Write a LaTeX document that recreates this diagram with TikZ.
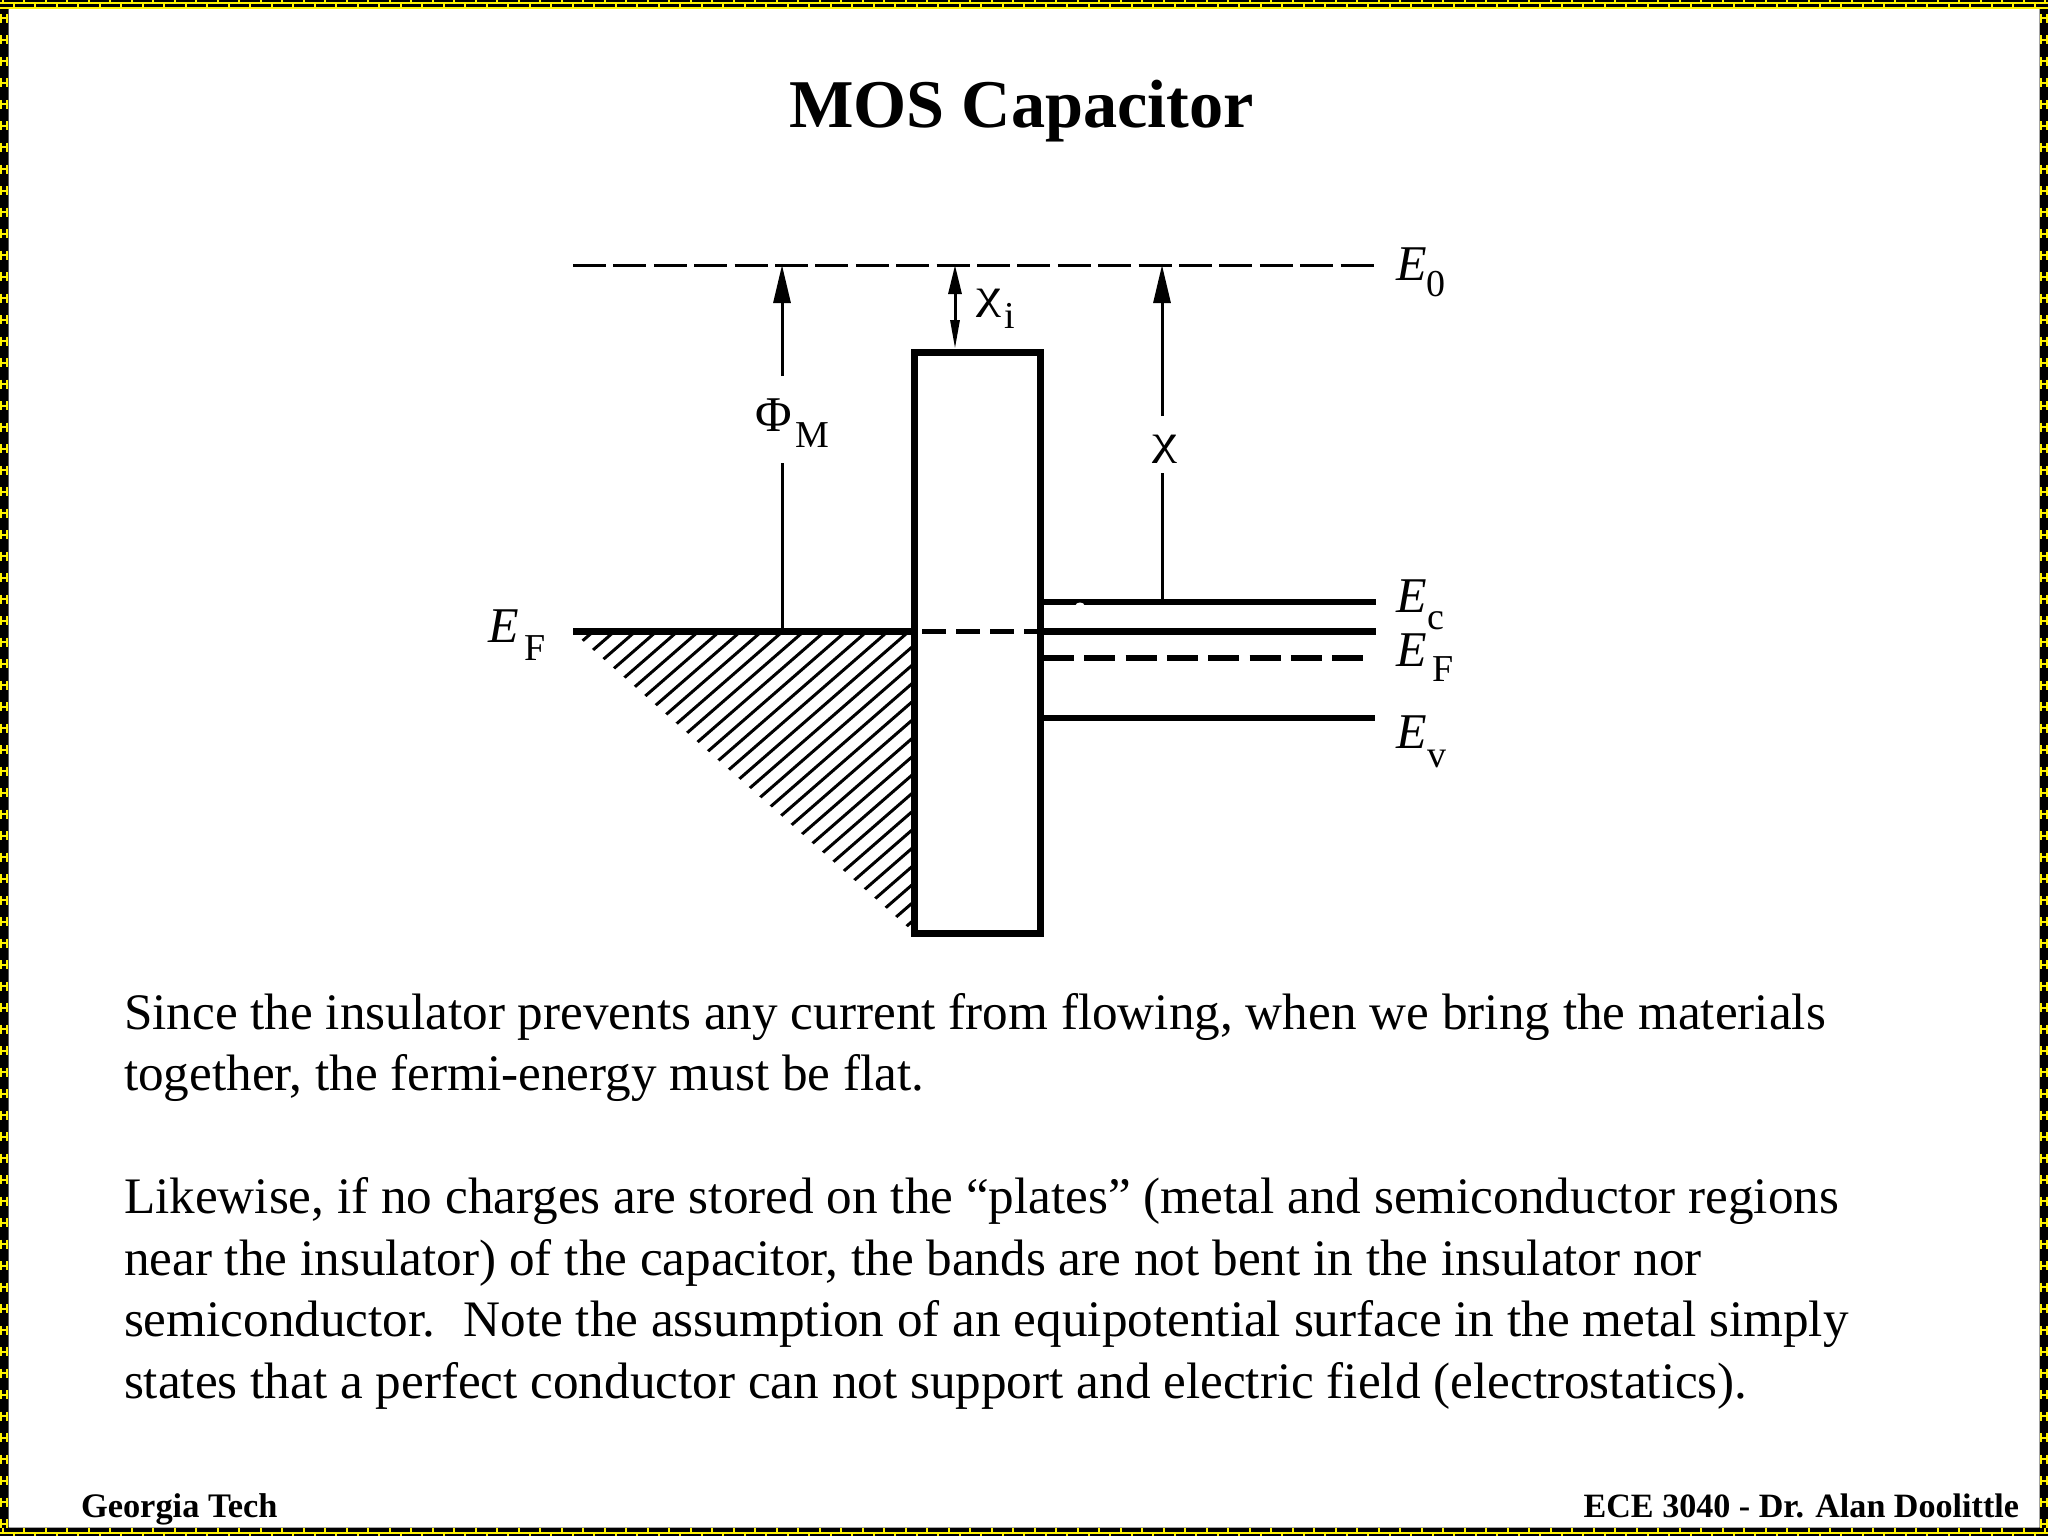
\documentclass[tikz,border=0pt]{standalone}
\usepackage{fontspec}
\usepackage{graphicx}
\setmainfont{Liberation Serif}
\usetikzlibrary{arrows.meta}
\newcommand{\fsz}[1]{\fontsize{#1}{#1}\selectfont}
\newcommand{\widechi}{\scalebox{1.2}[0.9]{χ}}
\tikzset{
  every node/.style={inner sep=0pt,outer sep=0pt,anchor=base west,text=black},
  title/.style={anchor=base,font=\fsz{68.3}\bfseries},
  body/.style={font=\fsz{51.2}},
  foot/.style={font=\fsz{34.1}\bfseries},
  footl/.style={font=\fsz{34.4}\bfseries},
  sym/.style={font=\fsz{50}},
  chisym/.style={font=\fsz{47}},
  symi/.style={font=\fsz{50}\itshape},
  subs/.style={font=\fsz{38}},
  band/.style={line width=6.5pt,line cap=butt},
  wall/.style={line width=7pt,line join=miter},
  dim/.style={line width=3pt},
  tipbig/.style={-{Triangle[length=38pt,width=17pt]}},
  hatchline/.style={line width=3pt},
  mortar/.style={yellow,line width=2pt},
}
\begin{document}
\begin{tikzpicture}[x=1pt,y=-1pt]
\useasboundingbox (0,0) rectangle (2048,1536);
\fill[white] (0,0) rectangle (2048,1536);
% ---- brick frame
\fill[black,even odd rule] (0,0) rectangle (2048,1536) (8.5,9) rectangle (2039.5,1527.5);
\draw[mortar] (0,3.4) -- (2048,3.4);
\draw[mortar] (0,8.4) -- (2048,8.4);
\draw[mortar] (0,1533) -- (2048,1533);
\foreach \k in {0,...,95}{
  \pgfmathsetmacro{\xa}{2.5+21.5*\k}
  \pgfmathsetmacro{\xb}{13.5+21.5*\k}
  \draw[mortar] (\xa,0) -- (\xa,3.4);
  \draw[mortar] (\xb,3.4) -- (\xb,8.4);
  \draw[mortar] (\xa,1527.5) -- (\xa,1533);
  \draw[mortar] (\xb,1533) -- (\xb,1536);
}
\foreach \k in {0,...,70}{
  \pgfmathsetmacro{\ya}{14+21.5*\k}
  \pgfmathsetmacro{\yb}{\ya+9}
  \pgfmathsetmacro{\ym}{\ya+4.5}
  \draw[mortar] (1,\ya) -- (1,\yb) (7.4,\ya) -- (7.4,\yb) (1,\ym) -- (7.4,\ym);
  \draw[mortar] (2040.6,\ya) -- (2040.6,\yb) (2047,\ya) -- (2047,\yb) (2040.6,\ym) -- (2047,\ym);
}
% ---- title
\node[title] (ttl) at (1021.5,128) {MOS Capacitor};
% ---- coordinates
\coordinate (e0l) at (573,265.5);
\coordinate (e0r) at (1376,265.5);
\coordinate (efl) at (573,631);
\coordinate (bl) at (914,631);
\coordinate (br) at (1040,631);
\coordinate (efr) at (1376,631);
\coordinate (ecl) at (1040,602);
\coordinate (ecr) at (1376,602);
\coordinate (fdl) at (1043,658);
\coordinate (fdr) at (1366,658);
\coordinate (evl) at (1040,718);
\coordinate (evr) at (1375,718);
% ---- hatch
\begin{scope}
\clip (575,634) -- (911,634) -- (911,930) -- cycle;
\foreach \k in {-17,...,16}{
  \pgfmathsetmacro{\cy}{647+18.3*\k}
  \pgfmathsetmacro{\dy}{\cy+0.87*360}
  \draw[hatchline] (912,\cy) -- (552,\dy);
}
\end{scope}
% ---- E0
\draw[line width=3pt,dash pattern=on 33pt off 7.4pt] (e0l) -- (e0r);
% ---- barrier
\node[draw,wall,fill=none,minimum width=126pt,minimum height=581pt,anchor=north west] (box) at (914,352) {};
% ---- levels
\draw[line width=7pt] (efl) -- (bl);
\draw[line width=5pt,dash pattern=on 24pt off 10pt] (922,631) -- (br);
\draw[line width=7pt] (br) -- (efr);
\draw[band] (ecl) -- (ecr);
\fill[white] (1080,605.5) ellipse (4.5pt and 3pt);
\draw[line width=5.5pt,dash pattern=on 31pt off 10.3pt] (fdl) -- (fdr);
\draw[band] (evl) -- (evr);
% ---- Phi_M
\coordinate (pa) at (782,631);
\coordinate (pb) at (782,463);
\coordinate (pc) at (782,376);
\coordinate (pd) at (782,265);
\draw[dim] (pa) -- (pb);
\draw[dim,tipbig] (pc) -- (pd);
\node[sym] (phi) at (755,431) {Φ};
\node[subs] (phim) at (795,447) {M};
% ---- chi_i
\coordinate (ci1) at (955,265);
\coordinate (ci2) at (955,349);
\draw[dim,{Triangle[length=29pt,width=13pt]}-{Triangle[length=29pt,width=9pt]}] (ci1) -- (ci2);
\node[chisym] (chii) at (976,308) {\widechi};
\node[subs] (chiis) at (1004,328) {i};
% ---- chi
\coordinate (ca) at (1162,600);
\coordinate (cb) at (1162,473);
\coordinate (cc) at (1162,416);
\coordinate (cd) at (1162,265);
\draw[dim] (ca) -- (cb);
\draw[dim,tipbig] (cc) -- (cd);
\node[chisym] (chi) at (1152,454) {\widechi};
% ---- energy labels
\node[symi] (lE0) at (1396,280) {E};
\node[subs] (lE0s) at (1426,296) {0};
\node[symi] (lEc) at (1396,612) {E};
\node[subs] (lEcs) at (1427,629) {c};
\node[symi] (lEf) at (1396,666) {E};
\node[subs] (lEfs) at (1432,681) {F};
\node[symi] (lEv) at (1396,748) {E};
\node[subs] (lEvs) at (1427,767) {v};
\node[symi] (lEl) at (488,642) {E};
\node[subs] (lEls) at (524,660) {F};
% ---- body
\node[body] (t1) at (124,1029) {Since the insulator prevents any current from flowing, when we bring the materials};
\node[body] (t2) at (124,1090) {together, the fermi-energy must be flat.};
\node[body] (t3) at (124,1213) {Likewise, if no charges are stored on the “plates” (metal and semiconductor regions};
\node[body] (t4) at (124,1275) {near the insulator) of the capacitor, the bands are not bent in the insulator nor};
\node[body] (t5) at (124,1336) {semiconductor.\ \ \hspace{2.5pt}Note the assumption of an equipotential surface in the metal simply};
\node[body] (t6) at (124,1398) {states that a perfect conductor can not support and electric field (electrostatics).};
% ---- footer
\node[footl] (f1) at (81,1517) {Georgia Tech};
\node[foot,anchor=base east] (f2) at (2019,1517) {ECE 3040 - Dr. Alan Doolittle};
\end{tikzpicture}
\end{document}
